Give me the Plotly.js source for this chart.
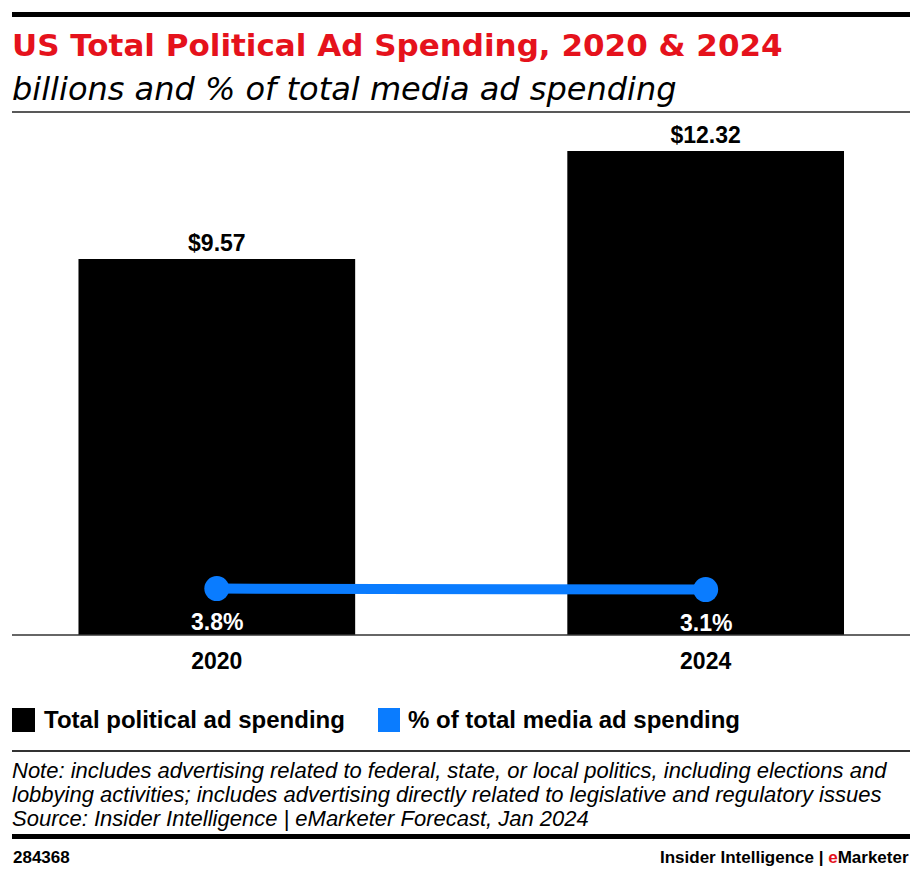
<!DOCTYPE html>
<html>
<head>
<meta charset="utf-8">
<script src="https://cdn.plot.ly/plotly-3.0.1.min.js"></script>
<style>
html,body{margin:0;padding:0;background:#fff;}
#chart{width:922px;height:878px;}
</style>
</head>
<body>
<div id="chart"></div>
<script>
// ---- data ----
const years = ["2020", "2024"];
const spending = [9.57, 12.32];           // billions
const spendingLabels = ["$9.57", "$12.32"];
const shareOfMedia = [3.8, 3.1];          // % of total media ad spending
const shareLabels = ["3.8%", "3.1%"];

const titleText = "US Total Political Ad Spending, 2020 & 2024";
const subtitleText = "billions and % of total media ad spending";
const legendNames = ["Total political ad spending", "% of total media ad spending"];
const noteLines = [
  "Note: includes advertising related to federal, state, or local politics, including elections and",
  "lobbying activities; includes advertising directly related to legislative and regulatory issues",
  "Source: Insider Intelligence | eMarketer Forecast, Jan 2024"
];
const chartId = "284368";

// ---- geometry helpers (pixel -> paper) ----
const W = 922, H = 878;
const L = 12, R = 910, T = 112, B = 635;
const px = x => (x - L) / (R - L);
const py = y => (B - y) / (B - T);

const FONT = "'Liberation Sans', Arial, sans-serif";
const WIDE = "'DejaVu Sans', 'Liberation Sans', sans-serif";
const BLUE = "#0a7cff";
const RED = "#e5121c";

const traces = [
  {
    type: "bar",
    x: years,
    y: spending,
    width: 0.566,
    marker: {color: "#000000"},
    text: spendingLabels,
    texttemplate: "<b>%{text}</b>",
    textposition: "outside",
    textfont: {family: FONT, size: 23, color: "#000"},
    cliponaxis: false,
    name: legendNames[0],
    hoverinfo: "skip"
  },
  {
    type: "scatter",
    mode: "lines+markers",
    x: years,
    y: shareOfMedia,
    yaxis: "y2",
    line: {color: BLUE, width: 10},
    marker: {color: BLUE, size: 25},
    cliponaxis: false,
    name: legendNames[1],
    hoverinfo: "skip"
  }
];

const annotations = [
  {text: "<b>" + titleText + "</b>", x: px(10), y: py(45), xanchor: "left", yanchor: "middle",
   font: {family: WIDE, size: 31, color: RED}},
  {text: "<i>" + subtitleText + "</i>", x: px(10), y: py(89), xanchor: "left", yanchor: "middle",
   font: {family: WIDE, size: 32, color: "#000"}},
  // legend
  {text: "<b>" + legendNames[0] + "</b>", x: px(42), y: py(720), xanchor: "left", yanchor: "middle",
   font: {family: FONT, size: 24, color: "#000"}},
  {text: "<b>" + legendNames[1] + "</b>", x: px(406), y: py(720), xanchor: "left", yanchor: "middle",
   font: {family: FONT, size: 24, color: "#000"}},
  // footer
  {text: "<b>" + chartId + "</b>", x: px(11), y: py(857), xanchor: "left", yanchor: "middle",
   font: {family: FONT, size: 17, color: "#000"}},
  {text: "<b>Insider Intelligence | <span style='color:" + RED + "'>e</span>Marketer</b>", x: px(911), y: py(857),
   xanchor: "right", yanchor: "middle", font: {family: FONT, size: 17, color: "#000"}}
];
noteLines.forEach((t, i) => {
  annotations.push({text: "<i>" + t + "</i>", x: px(10), y: py(770 + i * 24), xanchor: "left", yanchor: "middle",
    font: {family: FONT, size: 22, color: "#000"}});
});
annotations.forEach(a => { a.xref = "paper"; a.yref = "paper"; a.showarrow = false; });

// percentage labels tied to the line's data points (category index on x)
years.forEach((yr, i) => {
  annotations.push({
    text: "<b>" + shareLabels[i] + "</b>", x: i, y: shareOfMedia[i], xref: "x", yref: "y2",
    yshift: -33, showarrow: false, xanchor: "center", yanchor: "middle",
    font: {family: FONT, size: 23, color: "#ffffff"}
  });
});

const shapes = [
  {type: "rect", x0: px(12), x1: px(910), y0: py(12), y1: py(17), fillcolor: "#000", line: {width: 0}},
  {type: "line", x0: px(12), x1: px(910), y0: py(112), y1: py(112), line: {color: "#222", width: 1.5}},
  {type: "line", x0: px(12), x1: px(910), y0: py(635), y1: py(635), line: {color: "#333", width: 1.5}},
  {type: "rect", x0: px(12), x1: px(35), y0: py(708), y1: py(732), fillcolor: "#000", line: {width: 0}},
  {type: "rect", x0: px(378), x1: px(400), y0: py(708), y1: py(732), fillcolor: BLUE, line: {width: 0}},
  {type: "line", x0: px(12), x1: px(910), y0: py(751), y1: py(751), line: {color: "#333", width: 2}},
  {type: "rect", x0: px(12), x1: px(910), y0: py(834), y1: py(839), fillcolor: "#000", line: {width: 0}}
];
shapes.forEach(s => { s.xref = "paper"; s.yref = "paper"; s.layer = "above"; });

const layout = {
  width: W, height: H,
  margin: {l: L, r: W - R, t: T, b: H - B, pad: 0},
  paper_bgcolor: "#fff", plot_bgcolor: "#fff",
  showlegend: false,
  xaxis: {
    type: "category", range: [-0.419, 1.418], fixedrange: true,
    showgrid: false, zeroline: false, showline: false, ticks: "",
    tickmode: "array", tickvals: years, ticktext: years.map(y => "<b>" + y + "</b>"),
    tickfont: {family: FONT, size: 23, color: "#000"}, ticklabelstandoff: 10
  },
  yaxis: {range: [0, 13.31], visible: false, fixedrange: true},
  yaxis2: {range: [-28.7, 337.4], overlaying: "y", visible: false, fixedrange: true},
  annotations: annotations,
  shapes: shapes
};

Plotly.newPlot("chart", traces, layout, {displayModeBar: false, staticPlot: true});
</script>
</body>
</html>
